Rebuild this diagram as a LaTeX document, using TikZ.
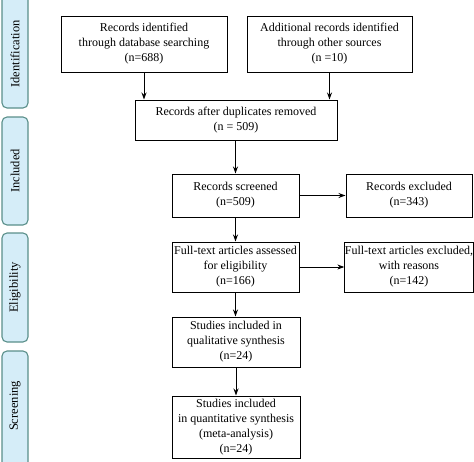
\documentclass[tikz,border=0pt]{standalone}
\usepackage{fontspec}
\setmainfont{Liberation Serif}
\usetikzlibrary{arrows.meta}
\definecolor{tabfill}{HTML}{D5EDF8}
\definecolor{tabline}{HTML}{5A8F8A}
\begin{document}
\begin{tikzpicture}[x=1pt,y=-1pt,
  box/.style={draw=black,line width=1pt,align=center,font=\fontsize{12}{15}\selectfont,inner sep=0pt},
  tab/.style={draw=tabline,fill=tabfill,line width=1.1pt,rounded corners=5pt},
  tablabel/.style={rotate=90,font=\fontsize{12.5}{14}\selectfont},
  arr/.style={-{Stealth[length=7pt,width=5pt]},line width=1pt}]
\useasboundingbox (0,0) rectangle (474,461);
% side tabs
\draw[tab] (2,-8) rectangle (28,108);
\draw[tab] (2,117) rectangle (28,225);
\draw[tab] (2,233) rectangle (28,342);
\draw[tab] (2,351) rectangle (28,468);
\node[tablabel] (t1) at (15,54) {Identification};
\node[tablabel] (t2) at (15,171) {Included};
\node[tablabel] (t3) at (15,287.5) {Eligibility};
\node[tablabel] (t4) at (15,406) {Screening};
% boxes
\node[box,minimum width=166pt,minimum height=56pt] (b1) at (144,44) {Records identified\\through database searching\\(n=688)};
\node[box,minimum width=165pt,minimum height=56pt] (b2) at (329.5,44) {Additional records identified\\through other sources\\(n =10)};
\node[box,minimum width=202pt,minimum height=40pt] (b3) at (236,120) {Records after duplicates removed\\(n = 509)};
\node[box,minimum width=127pt,minimum height=43pt] (b4) at (235.5,195.5) {Records screened\\(n=509)};
\node[box,minimum width=126pt,minimum height=43pt] (b5) at (409,195.5) {Records excluded\\(n=343)};
\node[box,minimum width=127pt,minimum height=50pt] (b6) at (235.5,267) {Full-text articles assessed\\for eligibility\\(n=166)};
\node[box,minimum width=126pt,minimum height=50pt] (b7) at (409,267) {Full-text articles excluded,\\with reasons\\(n=142)};
\node[box,minimum width=128pt,minimum height=50pt] (b8) at (236,342) {Studies included in\\qualitative synthesis\\(n=24)};
\node[box,minimum width=128pt,minimum height=62pt] (b9) at (236,427) {Studies included\\in quantitative synthesis\\(meta-analysis)\\(n=24)};
% arrows
\draw[arr] (b1.south) -- (b1.south |- b3.north);
\draw[arr] (b2.south) -- (b2.south |- b3.north);
\draw[arr] (b3.south -| b4.north) -- (b4.north);
\draw[arr] (b4.east) -- (b5.west);
\draw[arr] (b4.south) -- (b6.north);
\draw[arr] (b6.east) -- (b7.west);
\draw[arr] (b6.south) -- (b6.south |- b8.north);
\draw[arr] (b8.south) -- (b9.north);
\end{tikzpicture}
\end{document}
